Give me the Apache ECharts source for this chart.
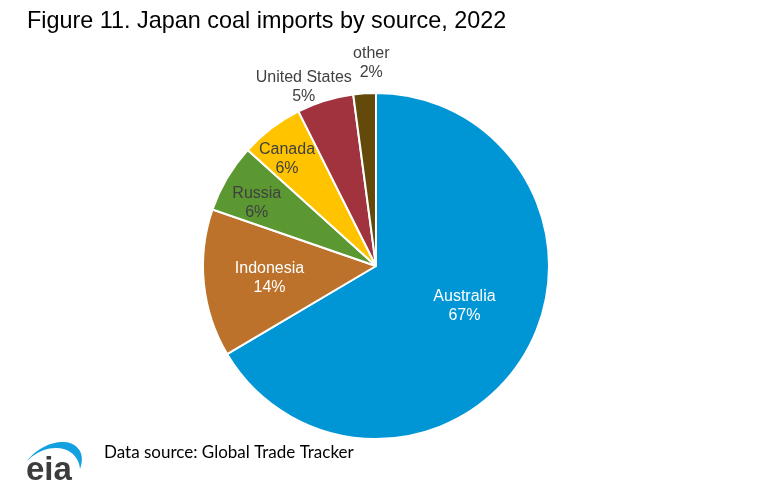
<!DOCTYPE html>
<html>
<head>
<meta charset="utf-8">
<script src="https://cdn.jsdelivr.net/npm/echarts@6/dist/echarts.min.js"></script>
<style>
html,body{margin:0;padding:0;background:#fff;}
#chart{width:772px;height:496px;}
</style>
</head>
<body>
<div id="chart"></div>
<script>
// ---- data ----
const titleText = 'Figure 11. Japan coal imports by source, 2022';
const sourceText = 'Data source: Global Trade Tracker';
const categories = ['Australia', 'Indonesia', 'Russia', 'Canada', 'United States', 'other'];
const shares = [66.5, 13.8, 6.4, 5.9, 5.3, 2.1];

// ---- styling / layout ----
const colors = ['#0096D6', '#BD722B', '#5B9832', '#FFC300', '#A1333F', '#634A0A'];
const labelRing = { 'Australia': 0, 'Indonesia': 0, 'Russia': 1, 'Canada': 1, 'United States': 2, 'other': 3 };
const labelOffset = { 'Australia': [-1, -11], 'Indonesia': [-4, 2], 'Russia': [3, 9], 'Canada': [-3, 6], 'United States': [-14, 10], 'other': [9, 5] };
const ringRadius = [200, 278, 390, 410];
const ringColor = ['#ffffff', '#404040', '#404040', '#404040'];
const center = [376, 266];
const labelFont = { fontFamily: 'Liberation Sans, Arial, sans-serif', fontSize: 16, lineHeight: 19 };

// logo swoosh outline (decoration)
function bez(p0, p1, p2, p3, n) {
  const pts = [];
  for (let i = 0; i <= n; i++) {
    const t = i / n, u = 1 - t;
    pts.push([
      u*u*u*p0[0] + 3*u*u*t*p1[0] + 3*u*t*t*p2[0] + t*t*t*p3[0],
      u*u*u*p0[1] + 3*u*u*t*p1[1] + 3*u*t*t*p2[1] + t*t*t*p3[1]
    ]);
  }
  return pts;
}
const swoosh = bez([27,461],[40,443],[70,434],[80,451],20)
  .concat(bez([80,451],[83,457],[82,463],[80,469],6))
  .concat(bez([80,469],[79,457],[70,448],[56,448],10))
  .concat(bez([56,448],[45,448],[35,453],[27,461],10));

const chart = echarts.init(document.getElementById('chart'), null, { renderer: 'canvas' });

const mainSeries = {
  type: 'pie',
  center: center,
  radius: [0, 173],
  startAngle: 90,
  clockwise: true,
  silent: true,
  animation: false,
  label: { show: false },
  labelLine: { show: false },
  itemStyle: { borderColor: '#ffffff', borderWidth: 2 },
  data: categories.map((c, i) => ({ name: c, value: shares[i], itemStyle: { color: colors[i] } }))
};

const labelSeries = ringRadius.map((r, k) => ({
  type: 'pie',
  center: center,
  radius: [0, r],
  startAngle: 90,
  clockwise: true,
  silent: true,
  animation: false,
  z: 5,
  percentPrecision: 0,
  avoidLabelOverlap: false,
  minShowLabelAngle: 0,
  labelLayout: { hideOverlap: false },
  labelLine: { show: false },
  itemStyle: { color: 'rgba(0,0,0,0)', borderWidth: 0 },
  label: Object.assign({
    show: true,
    position: 'inside',
    formatter: '{b}\n{d}%',
    color: ringColor[k],
    align: 'center'
  }, labelFont),
  data: categories.map((c, i) => ({
    name: c, value: shares[i],
    label: { show: labelRing[c] === k, offset: labelOffset[c] }
  }))
}));

chart.setOption({
  backgroundColor: '#ffffff',
  animation: false,
  title: {
    text: titleText,
    left: 22, top: 5,
    textStyle: { fontFamily: 'Liberation Sans, Arial, sans-serif', fontSize: 23.4, fontWeight: 'normal', color: '#000000' }
  },
  series: [mainSeries].concat(labelSeries),
  graphic: [
    {
      type: 'text', x: 104, y: 444,
      style: { text: sourceText, font: '17px Lato, "Noto Sans", sans-serif', fill: '#000000' }
    },
    {
      type: 'text', x: 26, y: 454,
      style: { text: 'eia', font: 'bold 33px "Liberation Sans", Arial, sans-serif', fill: '#3c3c3c' }
    },
    {
      type: 'polygon',
      shape: { points: swoosh },
      style: { fill: '#12a0df' }
    }
  ]
});
</script>
</body>
</html>
